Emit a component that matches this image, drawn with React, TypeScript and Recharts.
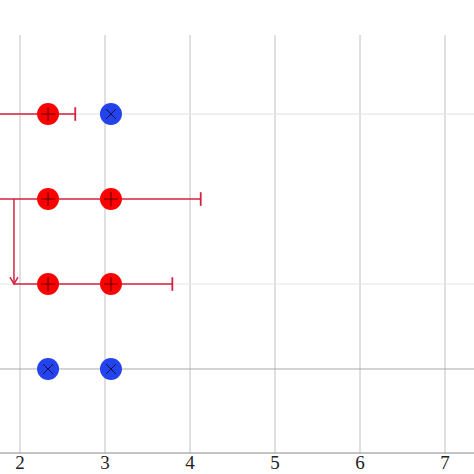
import React from 'react';
import {
  ReferenceLine,
  Scatter,
  ScatterChart,
  XAxis,
  YAxis,
} from 'recharts';

// x range visible in the crop
const X_MIN = 1.7647;
const X_MAX = 7.341;
const xTicks = [2, 3, 4, 5, 6, 7];

// rows, top to bottom
const rowY = [4, 3, 2, 1];

// red markers (+)
const redX = [2.33, 2.33, 3.07, 2.33, 3.07];
const redRow = [4, 3, 3, 2, 2];

// blue markers (x)
const blueX = [3.07, 2.33, 3.07];
const blueRow = [4, 1, 1];

// horizontal error spans (start, end) per row
const spanRow = [4, 3, 2];
const spanStart = [X_MIN, X_MIN, 1.929];
const spanEnd = [2.65, 4.126, 3.792];

// arrow from row 3 to row 2
const arrowX = 1.929;
const arrowFrom = 3;
const arrowTo = 2;

const LINE = '#d4213d';

const redData = redX.map((x, i) => ({ x, y: redRow[i] }));
const blueData = blueX.map((x, i) => ({ x, y: blueRow[i] }));

const PlusDot = (props: any) => {
  const { cx, cy } = props;
  return (
    <g>
      <circle cx={cx} cy={cy} r={11} fill="#ff0000" />
      <line x1={cx - 7} y1={cy} x2={cx + 7} y2={cy} stroke="#5a0000" strokeWidth={1} />
      <line x1={cx} y1={cy - 7} x2={cx} y2={cy + 7} stroke="#5a0000" strokeWidth={1} />
    </g>
  );
};

const CrossDot = (props: any) => {
  const { cx, cy } = props;
  return (
    <g>
      <circle cx={cx} cy={cy} r={11} fill="#2343ee" />
      <line x1={cx - 5} y1={cy - 5} x2={cx + 5} y2={cy + 5} stroke="#101040" strokeWidth={1} />
      <line x1={cx - 5} y1={cy + 5} x2={cx + 5} y2={cy - 5} stroke="#101040" strokeWidth={1} />
    </g>
  );
};

const ArrowHead = (props: any) => {
  const { cx, cy } = props;
  return (
    <path
      d={`M${cx - 4},${cy - 7} L${cx},${cy} L${cx + 4},${cy - 7}`}
      fill="none"
      stroke={LINE}
      strokeWidth={1.5}
    />
  );
};

export default function App() {
  return (
    <div style={{ position: 'absolute', left: 0, top: 0, background: '#fff' }}>
      <ScatterChart
        width={474}
        height={474}
        margin={{ top: 35, right: 0, bottom: 0, left: 0 }}
      >
        <XAxis
          type="number"
          dataKey="x"
          domain={[X_MIN, X_MAX]}
          ticks={xTicks}
          allowDataOverflow
          height={21}
          tickSize={0}
          tickMargin={3}
          axisLine={{ stroke: '#8a8a8a', strokeWidth: 1.2 }}
          tick={{ fill: '#222', fontSize: 19, fontFamily: '"Liberation Serif", "DejaVu Serif", serif' }}
        />
        <YAxis type="number" dataKey="y" domain={[0.0118, 4.93]} hide allowDataOverflow />
        {xTicks.map((t) => (
          <ReferenceLine key={`g${t}`} x={t} stroke="#cfcfcf" strokeWidth={1.3} />
        ))}
        <ReferenceLine y={rowY[0]} stroke="#e6e6e6" strokeWidth={1.2} />
        <ReferenceLine y={rowY[2]} stroke="#e6e6e6" strokeWidth={1.2} />
        <ReferenceLine y={rowY[3]} stroke="#a8a8a8" strokeWidth={1.2} />
        {spanRow.map((r, i) => (
          <ReferenceLine
            key={`s${i}`}
            segment={[{ x: spanStart[i], y: r }, { x: spanEnd[i], y: r }]}
            stroke={LINE}
            strokeWidth={1.5}
          />
        ))}
        {spanRow.map((r, i) => (
          <ReferenceLine
            key={`c${i}`}
            segment={[{ x: spanEnd[i], y: r + 0.08 }, { x: spanEnd[i], y: r - 0.08 }]}
            stroke={LINE}
            strokeWidth={1.8}
          />
        ))}
        <ReferenceLine
          segment={[{ x: arrowX, y: arrowFrom }, { x: arrowX, y: arrowTo }]}
          stroke={LINE}
          strokeWidth={1.5}
        />
        <Scatter
          data={[{ x: arrowX, y: arrowTo }]}
          shape={ArrowHead}
          isAnimationActive={false}
        />
        <Scatter data={redData} shape={PlusDot} isAnimationActive={false} />
        <Scatter data={blueData} shape={CrossDot} isAnimationActive={false} />
      </ScatterChart>
    </div>
  );
}
